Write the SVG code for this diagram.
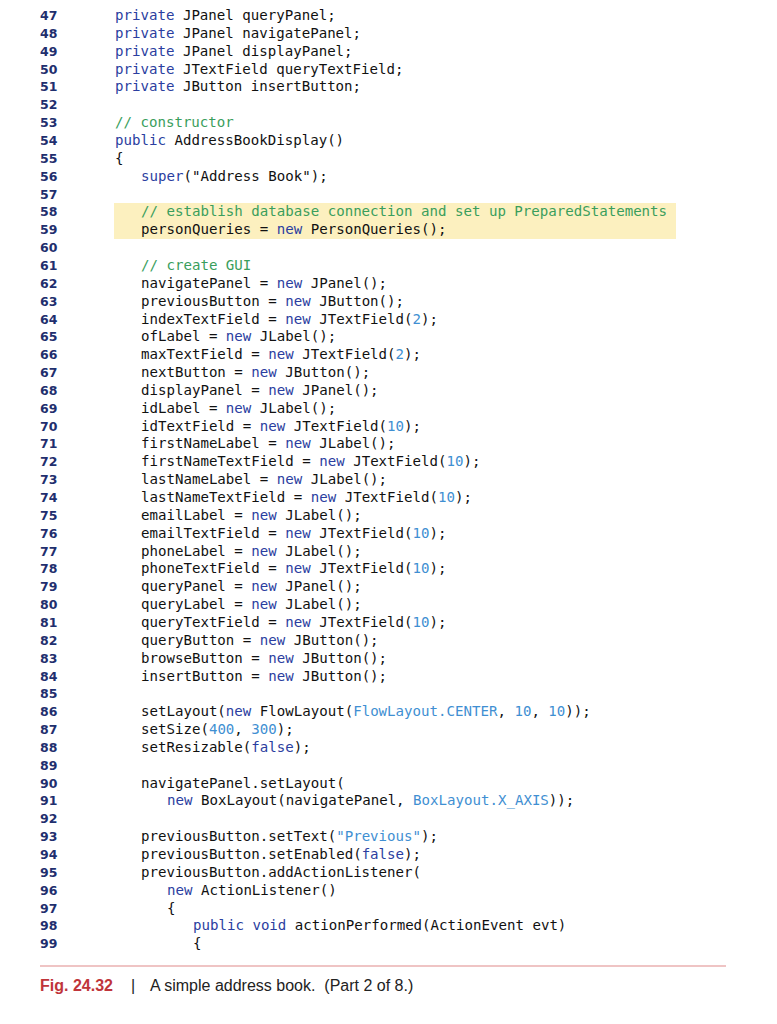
<svg xmlns="http://www.w3.org/2000/svg" width="777" height="1024" viewBox="0 0 777 1024">
<style>
.n{font-family:"DejaVu Sans","Liberation Sans",sans-serif;font-weight:bold;font-size:12.5px;fill:#1f2f6e}
.t{font-family:"DejaVu Sans Mono","Liberation Mono",monospace;font-size:14.1px;fill:#111}
.k{fill:#2b3ea0}.c{fill:#3a9e5c}.l{fill:#3f8fd2}
</style>
<rect width="777" height="1024" fill="#fff"/>
<rect x="114" y="203" width="562" height="36" fill="#fcf0bf"/>
<g id="numbers" class="n">
<text x="40" y="20">47</text><text x="40" y="37.9">48</text><text x="40" y="55.7">49</text><text x="40" y="73.6">50</text><text x="40" y="91.4">51</text><text x="40" y="109.3">52</text><text x="40" y="127.1">53</text><text x="40" y="145">54</text><text x="40" y="162.8">55</text><text x="40" y="180.7">56</text><text x="40" y="198.5">57</text><text x="40" y="216.4">58</text><text x="40" y="234.2">59</text><text x="40" y="252.1">60</text><text x="40" y="269.9">61</text><text x="40" y="287.8">62</text><text x="40" y="305.6">63</text><text x="40" y="323.5">64</text><text x="40" y="341.3">65</text><text x="40" y="359.2">66</text><text x="40" y="377">67</text><text x="40" y="394.9">68</text><text x="40" y="412.7">69</text><text x="40" y="430.6">70</text><text x="40" y="448.4">71</text><text x="40" y="466.3">72</text><text x="40" y="484.1">73</text><text x="40" y="502">74</text><text x="40" y="519.8">75</text><text x="40" y="537.7">76</text><text x="40" y="555.5">77</text><text x="40" y="573.4">78</text><text x="40" y="591.2">79</text><text x="40" y="609.1">80</text><text x="40" y="626.9">81</text><text x="40" y="644.8">82</text><text x="40" y="662.6">83</text><text x="40" y="680.5">84</text><text x="40" y="698.3">85</text><text x="40" y="716.2">86</text><text x="40" y="734">87</text><text x="40" y="751.9">88</text><text x="40" y="769.7">89</text><text x="40" y="787.6">90</text><text x="40" y="805.4">91</text><text x="40" y="823.3">92</text><text x="40" y="841.1">93</text><text x="40" y="859">94</text><text x="40" y="876.8">95</text><text x="40" y="894.7">96</text><text x="40" y="912.5">97</text><text x="40" y="930.4">98</text><text x="40" y="948.2">99</text>
</g>
<g id="code" class="t" xml:space="preserve">
<text x="115" y="20"><tspan class="k">private</tspan> JPanel queryPanel;</text>
<text x="115" y="37.9"><tspan class="k">private</tspan> JPanel navigatePanel;</text>
<text x="115" y="55.7"><tspan class="k">private</tspan> JPanel displayPanel;</text>
<text x="115" y="73.6"><tspan class="k">private</tspan> JTextField queryTextField;</text>
<text x="115" y="91.4"><tspan class="k">private</tspan> JButton insertButton;</text>
<text x="115" y="127.1" class="c">// constructor</text>
<text x="115" y="145"><tspan class="k">public</tspan> AddressBookDisplay()</text>
<text x="115" y="162.8">{</text>
<text x="141" y="180.7"><tspan class="k">super</tspan>("Address Book");</text>
<text x="141" y="216.4" class="c">// establish database connection and set up PreparedStatements</text>
<text x="141" y="234.2">personQueries = <tspan class="k">new</tspan> PersonQueries();</text>
<text x="141" y="269.9" class="c">// create GUI</text>
<text x="141" y="287.8">navigatePanel = <tspan class="k">new</tspan> JPanel();</text>
<text x="141" y="305.6">previousButton = <tspan class="k">new</tspan> JButton();</text>
<text x="141" y="323.5">indexTextField = <tspan class="k">new</tspan> JTextField(<tspan class="l">2</tspan>);</text>
<text x="141" y="341.3">ofLabel = <tspan class="k">new</tspan> JLabel();</text>
<text x="141" y="359.2">maxTextField = <tspan class="k">new</tspan> JTextField(<tspan class="l">2</tspan>);</text>
<text x="141" y="377">nextButton = <tspan class="k">new</tspan> JButton();</text>
<text x="141" y="394.9">displayPanel = <tspan class="k">new</tspan> JPanel();</text>
<text x="141" y="412.7">idLabel = <tspan class="k">new</tspan> JLabel();</text>
<text x="141" y="430.6">idTextField = <tspan class="k">new</tspan> JTextField(<tspan class="l">10</tspan>);</text>
<text x="141" y="448.4">firstNameLabel = <tspan class="k">new</tspan> JLabel();</text>
<text x="141" y="466.3">firstNameTextField = <tspan class="k">new</tspan> JTextField(<tspan class="l">10</tspan>);</text>
<text x="141" y="484.1">lastNameLabel = <tspan class="k">new</tspan> JLabel();</text>
<text x="141" y="502">lastNameTextField = <tspan class="k">new</tspan> JTextField(<tspan class="l">10</tspan>);</text>
<text x="141" y="519.8">emailLabel = <tspan class="k">new</tspan> JLabel();</text>
<text x="141" y="537.7">emailTextField = <tspan class="k">new</tspan> JTextField(<tspan class="l">10</tspan>);</text>
<text x="141" y="555.5">phoneLabel = <tspan class="k">new</tspan> JLabel();</text>
<text x="141" y="573.4">phoneTextField = <tspan class="k">new</tspan> JTextField(<tspan class="l">10</tspan>);</text>
<text x="141" y="591.2">queryPanel = <tspan class="k">new</tspan> JPanel();</text>
<text x="141" y="609.1">queryLabel = <tspan class="k">new</tspan> JLabel();</text>
<text x="141" y="626.9">queryTextField = <tspan class="k">new</tspan> JTextField(<tspan class="l">10</tspan>);</text>
<text x="141" y="644.8">queryButton = <tspan class="k">new</tspan> JButton();</text>
<text x="141" y="662.6">browseButton = <tspan class="k">new</tspan> JButton();</text>
<text x="141" y="680.5">insertButton = <tspan class="k">new</tspan> JButton();</text>
<text x="141" y="716.2">setLayout(<tspan class="k">new</tspan> FlowLayout(<tspan class="l">FlowLayout.CENTER</tspan>, <tspan class="l">10</tspan>, <tspan class="l">10</tspan>));</text>
<text x="141" y="734">setSize(<tspan class="l">400</tspan>, <tspan class="l">300</tspan>);</text>
<text x="141" y="751.9">setResizable(<tspan class="k">false</tspan>);</text>
<text x="141" y="787.6">navigatePanel.setLayout(</text>
<text x="167" y="805.4"><tspan class="k">new</tspan> BoxLayout(navigatePanel, <tspan class="l">BoxLayout.X_AXIS</tspan>));</text>
<text x="141" y="841.1">previousButton.setText(<tspan class="l">"Previous"</tspan>);</text>
<text x="141" y="859">previousButton.setEnabled(<tspan class="k">false</tspan>);</text>
<text x="141" y="876.8">previousButton.addActionListener(</text>
<text x="167" y="894.7"><tspan class="k">new</tspan> ActionListener()</text>
<text x="167" y="912.5">{</text>
<text x="193" y="930.4"><tspan class="k">public void</tspan> actionPerformed(ActionEvent evt)</text>
<text x="193" y="948.2">{</text>
</g>
<line x1="40" y1="966" x2="726" y2="966" stroke="#e08a8a" stroke-width="1.2"/>
<g id="caption" font-family="'Liberation Sans Narrow','Liberation Sans',sans-serif" font-size="16">
<text x="40" y="991" font-weight="bold" fill="#c0343a">Fig. 24.32</text>
<text x="131" y="991" fill="#222">|</text>
<text x="150" y="991" fill="#222" xml:space="preserve">A simple address book.  (Part 2 of 8.)</text>
</g>
</svg>
